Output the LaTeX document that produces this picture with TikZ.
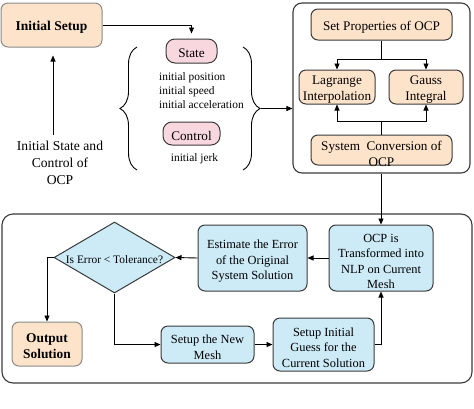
\documentclass[tikz,border=0pt]{standalone}
\usepackage{fontspec}
\setmainfont{Liberation Serif}
\usetikzlibrary{shapes.geometric,arrows.meta,decorations.pathreplacing}
\definecolor{peach}{HTML}{FDE3CA}
\definecolor{pinkc}{HTML}{F9D7DF}
\definecolor{bluec}{HTML}{CDEBF7}
\definecolor{edge}{HTML}{3A3A3A}
\definecolor{grayedge}{HTML}{8A8A8A}
\begin{document}
\begin{tikzpicture}[x=1pt,y=-1pt,
  box/.style={draw=edge, line width=1pt, rounded corners=7pt, inner sep=0pt},
  tx/.style={align=center, inner sep=0pt},
  topf/.style={font=\fontsize{13.2}{16}\selectfont},
  botf/.style={font=\fontsize{12.4}{15.5}\selectfont},
  peachbox/.style={box, fill=peach},
  bluebox/.style={box, fill=bluec},
  pinkbox/.style={box, fill=pinkc, rounded corners=9pt},
  group/.style={draw=edge, line width=1.1pt, rounded corners=9pt},
  arr/.style={-{Triangle[length=6pt,width=5pt]}, line width=0.9pt, draw=black},
  ln/.style={line width=0.9pt, draw=black},
  brc/.style={decorate, decoration={brace, amplitude=17pt, aspect=0.5}, line width=0.9pt}
]
\useasboundingbox (0,0) rectangle (474,408);

% ---- top left
\node[box, draw=grayedge, fill=peach, minimum width=101pt, minimum height=44pt] (setup) at (51.5,25) {};
\node[tx, font=\fontsize{13.5}{16}\selectfont\bfseries] (setupt) at ([yshift=-2.5pt]setup.center) {Initial Setup};
\node[tx, font=\fontsize{13.6}{17}\selectfont] (inittxt) at (60,163) {Initial State and\\Control of\\OCP};
\coordinate (upstart) at (53,135);
\draw[arr, shorten >=8pt] (upstart) -- (upstart |- setup.south);

\node[pinkbox, minimum width=51pt, minimum height=24pt] (state) at (191.5,51) {};
\node[tx, topf] (statet) at ([yshift=-2pt]state.center) {State};
\node[pinkbox, minimum width=57pt, minimum height=23pt] (control) at (191.5,133.5) {};
\node[tx, topf] (controlt) at ([yshift=-2pt]control.center) {Control};
\node[align=left, anchor=west, inner sep=0pt, font=\fontsize{11.4}{13.7}\selectfont] (stxt) at (159,90.5)
  {initial position\\initial speed\\initial acceleration};
\node[inner sep=0pt, font=\fontsize{11.4}{13.7}\selectfont] (jtxt) at (194.5,159) {initial jerk};
\draw[arr, shorten >=5pt] (setup.east) -| (state.north);

\coordinate (lb1) at (137,170);
\coordinate (lb2) at (137,47);
\draw[brc] (lb1) -- (lb2);
\coordinate (rb1) at (243,47);
\coordinate (rb2) at (243,170);
\draw[brc] (rb1) -- (rb2);
\coordinate (rbtip) at (261,108.5);

% ---- top right group
\node[group, minimum width=177pt, minimum height=170pt, inner sep=0pt] (ocpgrp) at (381.5,88) {};
\draw[arr] (rbtip) -- (rbtip -| ocpgrp.west);
\node[peachbox, minimum width=141pt, minimum height=31pt] (setprop) at (381.5,24.5) {};
\node[tx, topf] (setpropt) at ([yshift=-3pt]setprop.center) {Set Properties of OCP};
\node[peachbox, minimum width=76pt, minimum height=34pt] (lag) at (337,87) {};
\node[tx, topf] (lagt) at ([yshift=-3pt]lag.center) {Lagrange\\Interpolation};
\node[peachbox, minimum width=74pt, minimum height=34pt] (gauss) at (426,87) {};
\node[tx, topf] (gausst) at ([yshift=-3pt]gauss.center) {Gauss\\Integral};
\node[peachbox, minimum width=141pt, minimum height=30pt] (sysc) at (381.5,150) {};
\node[tx, topf] (sysct) at ([yshift=-4pt]sysc.center) {System\ \ Conversion of\\OCP};
\coordinate (j1) at (381.5,59);
\coordinate (j2) at (381.5,121);
\draw[ln] (setprop.south) -- (j1);
\draw[arr] (j1) -| (lag.north);
\draw[arr] (j1) -| (gauss.north);
\draw[ln] (sysc.north) -- (j2);
\draw[arr] (j2) -| (lag.south);
\draw[arr] (j2) -| (gauss.south);

% ---- bottom group
\node[group, minimum width=470pt, minimum height=169pt, inner sep=0pt, rounded corners=11pt] (botgrp) at (237,298.5) {};
\node[bluebox, minimum width=104pt, minimum height=66pt] (nlp) at (381,258) {};
\node[tx, botf] (nlpt) at ([yshift=-3.5pt]nlp.center) {OCP is\\Transformed into\\NLP on Current\\Mesh};
\node[bluebox, minimum width=109pt, minimum height=66pt] (est) at (252.5,258) {};
\node[tx, botf] (estt) at ([yshift=-3.5pt]est.center) {Estimate the Error\\of the Original\\System Solution};
\node[draw=edge, line width=1pt, fill=bluec, diamond, shape aspect=1.7, inner sep=0pt,
      minimum width=121pt, minimum height=71pt] (dia) at (114.5,257.5) {};
\node[tx, font=\fontsize{11.4}{14}\selectfont] (diat) at ([yshift=-2pt]dia.center) {Is Error < Tolerance?};
\node[box, draw=grayedge, fill=peach, minimum width=70pt, minimum height=44pt] (out) at (47,344) {};
\node[tx, font=\fontsize{13.4}{15.7}\selectfont\bfseries] (outt) at ([yshift=-2pt]out.center) {Output\\Solution};
\node[bluebox, minimum width=93pt, minimum height=37pt] (mesh) at (207.5,344.5) {};
\node[tx, botf] (mesht) at ([yshift=-3pt]mesh.center) {Setup the New\\Mesh};
\node[bluebox, minimum width=101pt, minimum height=53pt] (guess) at (323.5,344.5) {};
\node[tx, botf] (guesst) at ([yshift=-3pt]guess.center) {Setup Initial\\Guess for the\\Current Solution};

\draw[arr] (ocpgrp.south -| nlp.north) -- (nlp.north);
\draw[arr] (nlp.west) -- (est.east);
\draw[arr] (est.west) -- (dia.east);
\draw[arr] (dia.west) -| (out.north);
\draw[arr] (dia.south) |- (mesh.west);
\draw[arr] (mesh.east) -- (guess.west);
\draw[arr] (guess.east) -| (nlp.south);
\end{tikzpicture}
\end{document}
